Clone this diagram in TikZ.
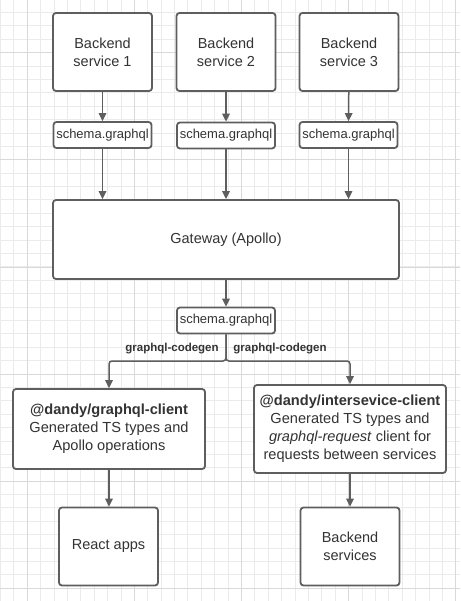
\documentclass[tikz,border=0pt]{standalone}
\usepackage{fontspec}
\setmainfont{Liberation Sans}
\usepackage{tikz}
\usetikzlibrary{positioning,calc,arrows.meta}

\definecolor{boxline}{HTML}{5E5E5E}
\definecolor{boxtext}{HTML}{333333}
\definecolor{minorgrid}{HTML}{EBEBEB}
\definecolor{majorgrid}{HTML}{D9D9D9}

\begin{document}
\begin{tikzpicture}[x=1pt,y=-1pt]
		\tikzset{boxstyle/.style={draw=boxline,line width=1.8pt,rounded corners=3pt,fill=white,text=boxtext,align=center,inner sep=0pt,font=\fontsize{14.5}{18}\selectfont}}
		\tikzset{servicebox/.style={boxstyle,minimum width=99pt,minimum height=78pt}}
		\tikzset{schemabox/.style={boxstyle,minimum width=98pt,minimum height=26pt,font=\fontsize{13}{15}\selectfont}}
		\tikzset{clientbox/.style={boxstyle,minimum width=192pt,font=\fontsize{14.6}{18}\selectfont}}
		\tikzset{flowedge/.style={draw=boxline,line width=1.5pt,-{Triangle[width=7.5pt,length=8pt]}}}
		\tikzset{codegenlabel/.style={text=boxtext,inner sep=0pt,font=\fontsize{11.5}{14}\selectfont\bfseries}}
		
		\useasboundingbox (0,0) rectangle (460,601);
		\fill[white] (0,0) rectangle (460,601);
		
		% grid
		\foreach \i in {0,...,34}
		{
			\draw[minorgrid,line width=1pt] ({0.52+13.39*\i},0) -- ({0.52+13.39*\i},601);
		}
		\foreach \i in {0,...,44}
		{
			\draw[minorgrid,line width=1pt] (0,{12.53+13.39*\i}) -- (460,{12.53+13.39*\i});
		}
		\foreach \i in {0,...,4}
		{
			\draw[majorgrid,line width=1pt] ({27.3+107.1*\i},0) -- ({27.3+107.1*\i},601);
		}
		\foreach \i in {0,...,5}
		{
			\draw[majorgrid,line width=1pt] (0,{52.8+107.1*\i}) -- (460,{52.8+107.1*\i});
		}
		
		\newcommand\drawService[4] % {x} {y} {text} {name}
		{
			\node[servicebox] at (#1, #2) (#4) {#3};
		}
		
		\newcommand\drawSchema[3] % {x} {y} {name}
		{
			\node[schemabox] at (#1, #2) (#3) {schema.graphql};
		}
		
		\drawService{102.5}{52}{Backend\\service 1}{svc1}
		\drawService{226}{52}{Backend\\service 2}{svc2}
		\drawService{349}{52}{Backend\\service 3}{svc3}
		
		\drawSchema{102.5}{135}{schema1}
		\drawSchema{226}{135.5}{schema2}
		\drawSchema{348.5}{135}{schema3}
		
		\node[boxstyle,minimum width=346pt,minimum height=79pt] at (226,239.5) (gateway) {Gateway (Apollo)};
		
		\drawSchema{226}{320.5}{schema4}
		
		\node[clientbox,minimum height=80pt] at (109,429) (client1)
		{\textbf{@dandy/graphql-client}\\Generated TS types and\\Apollo operations};
		\node[clientbox,minimum height=88pt] at (350,429) (client2)
		{\textbf{@dandy/intersevice-client}\\Generated TS types and\\\textit{graphql-request} client for\\requests between services};
		
		\drawService{108.5}{546.5}{React apps}{react}
		\drawService{350}{546.5}{Backend\\services}{backend}
		
		\draw[flowedge] (svc1) to (schema1);
		\draw[flowedge] (svc2) to (schema2);
		\draw[flowedge] (svc3) to (schema3);
		
		\draw[flowedge] (schema1) to (schema1 |- gateway.north);
		\draw[flowedge] (schema2) to (schema2 |- gateway.north);
		\draw[flowedge] (schema3) to (schema3 |- gateway.north);
		\draw[flowedge] (gateway) to (schema4);
		
		\coordinate (split) at (226,361);
		\draw[flowedge,rounded corners=3pt] (schema4.south) -- (split) -| (client1.north);
		\draw[flowedge,rounded corners=3pt] (schema4.south) -- (split) -| (client2.north);
		
		\node[codegenlabel] at (172,349) (codegenL) {graphql-codegen};
		\node[codegenlabel] at (280,349) (codegenR) {graphql-codegen};
		
		\draw[flowedge] (client1) to (client1 |- react.north);
		\draw[flowedge] (client2) to (client2 |- backend.north);
		
\end{tikzpicture}
\end{document}
